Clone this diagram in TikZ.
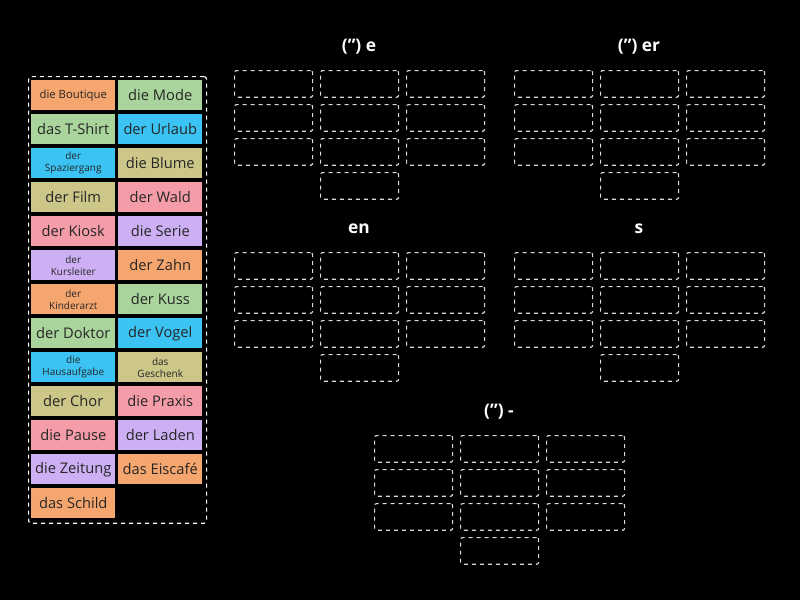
\documentclass[tikz,border=0pt]{standalone}
\usepackage{fontspec}
\setmainfont{Open Sans}
\begin{document}
\begin{tikzpicture}[x=0.75pt,y=-0.75pt,
 tile/.style={draw=none,minimum width=63pt,minimum height=22.5pt,inner sep=0pt,anchor=north west,text=black!85,align=center,font=\fontsize{11}{12}\selectfont},
 sm/.style={font=\fontsize{8.5}{10}\selectfont},
 two/.style={font=\fontsize{7.5}{9}\selectfont},
 slot/.style={draw=white!85!black,dashed,line width=0.9pt,rounded corners=1.5pt,minimum width=58.5pt,minimum height=20pt,inner sep=0pt,anchor=north west},
 ttl/.style={text=white,font=\bfseries\fontsize{13}{15}\selectfont}]
\fill[black] (0,0) rectangle (800,600);
\definecolor{c1}{HTML}{F5A66E}\definecolor{c2}{HTML}{A9D49B}\definecolor{c3}{HTML}{3AC3F3}
\definecolor{c4}{HTML}{CCC689}\definecolor{c5}{HTML}{F49DA8}\definecolor{c6}{HTML}{CDB0F4}
\node[draw=white,dashed,line width=0.9pt,rounded corners=2pt,minimum width=133.5pt,minimum height=335pt,anchor=north west,inner sep=0pt] (panel) at (28,76) {};
\def\tl#1#2#3#4#5{\node[tile,fill=#3,#5] (#4) at (#1,#2) {#4};}
\foreach \t/\c/\x/\y/\s [count=\i] in {
 die Boutique/c1/31/80/sm, die Mode/c2/118/80/,
 das T-Shirt/c2/31/114/, der Urlaub/c3/118/114/,
 {der\\Spaziergang}/c3/31/148/two, die Blume/c4/118/148/,
 der Film/c4/31/182/, der Wald/c5/118/182/,
 der Kiosk/c5/31/216/, die Serie/c6/118/216/,
 {der\\Kursleiter}/c6/31/250/two, der Zahn/c1/118/250/,
 {der\\Kinderarzt}/c1/31/284/two, der Kuss/c2/118/284/,
 der Doktor/c2/31/318/, der Vogel/c3/118/318/,
 {die\\Hausaufgabe}/c3/31/352/two, {das\\Geschenk}/c4/118/352/two,
 der Chor/c4/31/386/, die Praxis/c5/118/386/,
 die Pause/c5/31/420/, der Laden/c6/118/420/,
 die Zeitung/c6/31/454/, das Eiscafé/c1/118/454/,
 das Schild/c1/31/488/}
 {\node[tile,fill=\c,\s] (w\i) at (\x,\y) {\t};}
% groups
\foreach \g/\ti/\gx/\gy/\tx/\ty in {a/{(") e}/234/70/359/47, b/{(") er}/514/70/639/47, c/en/234/252/359/229, d/s/514/252/639/229, e/{(") -}/374/435/499/412}{
 \node[ttl] (t\g) at (\tx,\ty) {\ti};
 \foreach \r in {0,1,2}{\foreach \k in {0,1,2}{
  \node[slot] (s\g\r\k) at ({\gx+86*\k},{\gy+34*\r}) {};}}
 \node[slot] (s\g3) at ({\gx+86},{\gy+102}) {};
}
\end{tikzpicture}
\end{document}
